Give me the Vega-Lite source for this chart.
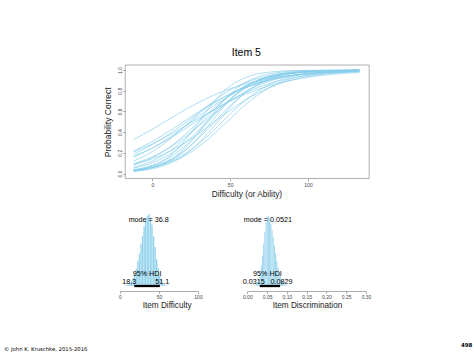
{
  "$schema": "https://vega.github.io/schema/vega-lite/v6.json",
  "width": 474,
  "height": 355,
  "autosize": {"type": "none"},
  "padding": 0,
  "background": "white",
  "title": {"text": "© John K. Kruschke, 2015-2016", "orient": "bottom", "anchor": "start", "frame": "group", "offset": -6.3, "dx": 4, "fontSize": 5.3, "font": "DejaVu Sans", "fontWeight": "normal", "color": "#000000", "baseline": "middle"},
  "config": {
    "view": {"stroke": null},
    "axis": {"grid": false, "labelFlush": false, "labelOverlap": false, "labelFont": "Liberation Sans", "titleFont": "Liberation Sans", "titleFontWeight": "normal", "labelFontSize": 5, "labelColor": "#444444", "titleColor": "#222222", "tickColor": "#777777", "tickWidth": 0.6, "tickSize": 2.5, "domainColor": "#777777", "domainWidth": 0.6}
  },
  "layer": [
    {
      "data": {"values": [{}]},
      "mark": {"type": "rect", "fillOpacity": 0, "stroke": "#8c8c8c", "strokeWidth": 0.7},
      "encoding": {
        "x": {"datum": -17.4, "type": "quantitative", "scale": {"domain": [0, 100], "range": [152.3, 308], "nice": false, "zero": false},
          "axis": {"orient": "bottom", "offset": -176.5, "values": [0, 50, 100], "domain": false, "labelPadding": 1, "title": "Difficulty (or Ability)", "titleFontSize": 8.3, "titleX": 246.4, "titleY": 15.5, "titleBaseline": "middle", "titleAlign": "center"}},
        "x2": {"datum": 139.3},
        "y": {"datum": -0.048, "type": "quantitative", "scale": {"domain": [0, 1], "range": [173.5, 70], "nice": false, "zero": false},
          "axis": {"orient": "left", "offset": -125.3, "values": [0, 0.2, 0.4, 0.6, 0.8, 1], "format": ".1f", "domain": false, "labelAngle": -90, "labelAlign": "center", "labelBaseline": "bottom", "labelPadding": 0.5, "title": "Probability Correct", "titleFontSize": 8.5, "titleX": -18, "titleY": 121.75, "titleAngle": -90, "titleBaseline": "middle", "titleAlign": "center"}},
        "y2": {"datum": 1.048}
      }
    },
    {
      "data": {"values": [
        {"c":1,"x":-12,"p":0.326},{"c":1,"x":0,"p":0.428},{"c":1,"x":12,"p":0.536},{"c":1,"x":24,"p":0.640},{"c":1,"x":36,"p":0.733},{"c":1,"x":48,"p":0.808},{"c":1,"x":60,"p":0.867},{"c":1,"x":75,"p":0.918},{"c":1,"x":95,"p":0.958},{"c":1,"x":133,"p":0.989},
        {"c":2,"x":-12,"p":0.218},{"c":2,"x":0,"p":0.310},{"c":2,"x":12,"p":0.421},{"c":2,"x":24,"p":0.540},{"c":2,"x":36,"p":0.655},{"c":2,"x":48,"p":0.754},{"c":2,"x":60,"p":0.832},{"c":2,"x":75,"p":0.900},{"c":2,"x":95,"p":0.953},{"c":2,"x":133,"p":0.989},
        {"c":3,"x":-12,"p":0.188},{"c":3,"x":0,"p":0.280},{"c":3,"x":12,"p":0.394},{"c":3,"x":24,"p":0.521},{"c":3,"x":36,"p":0.646},{"c":3,"x":48,"p":0.754},{"c":3,"x":60,"p":0.837},{"c":3,"x":75,"p":0.907},{"c":3,"x":95,"p":0.958},{"c":3,"x":133,"p":0.992},
        {"c":4,"x":-12,"p":0.159},{"c":4,"x":0,"p":0.245},{"c":4,"x":12,"p":0.358},{"c":4,"x":24,"p":0.489},{"c":4,"x":36,"p":0.621},{"c":4,"x":48,"p":0.738},{"c":4,"x":60,"p":0.829},{"c":4,"x":75,"p":0.905},{"c":4,"x":95,"p":0.959},{"c":4,"x":133,"p":0.992},
        {"c":5,"x":-12,"p":0.168},{"c":5,"x":0,"p":0.246},{"c":5,"x":12,"p":0.345},{"c":5,"x":24,"p":0.460},{"c":5,"x":36,"p":0.579},{"c":5,"x":48,"p":0.690},{"c":5,"x":60,"p":0.782},{"c":5,"x":75,"p":0.868},{"c":5,"x":95,"p":0.936},{"c":5,"x":133,"p":0.985},
        {"c":6,"x":-12,"p":0.121},{"c":6,"x":0,"p":0.211},{"c":6,"x":12,"p":0.341},{"c":6,"x":24,"p":0.500},{"c":6,"x":36,"p":0.659},{"c":6,"x":48,"p":0.789},{"c":6,"x":60,"p":0.879},{"c":6,"x":75,"p":0.943},{"c":6,"x":95,"p":0.980},{"c":6,"x":133,"p":0.997},
        {"c":7,"x":-12,"p":0.084},{"c":7,"x":0,"p":0.153},{"c":7,"x":12,"p":0.264},{"c":7,"x":24,"p":0.415},{"c":7,"x":36,"p":0.585},{"c":7,"x":48,"p":0.736},{"c":7,"x":60,"p":0.847},{"c":7,"x":75,"p":0.929},{"c":7,"x":95,"p":0.976},{"c":7,"x":133,"p":0.997},
        {"c":8,"x":-12,"p":0.061},{"c":8,"x":0,"p":0.121},{"c":8,"x":12,"p":0.224},{"c":8,"x":24,"p":0.378},{"c":8,"x":36,"p":0.562},{"c":8,"x":48,"p":0.729},{"c":8,"x":60,"p":0.850},{"c":8,"x":75,"p":0.935},{"c":8,"x":95,"p":0.980},{"c":8,"x":133,"p":0.998},
        {"c":9,"x":-12,"p":0.052},{"c":9,"x":0,"p":0.103},{"c":9,"x":12,"p":0.194},{"c":9,"x":24,"p":0.336},{"c":9,"x":36,"p":0.515},{"c":9,"x":48,"p":0.691},{"c":9,"x":60,"p":0.825},{"c":9,"x":75,"p":0.923},{"c":9,"x":95,"p":0.976},{"c":9,"x":133,"p":0.998},
        {"c":10,"x":-12,"p":0.037},{"c":10,"x":0,"p":0.080},{"c":10,"x":12,"p":0.164},{"c":10,"x":24,"p":0.307},{"c":10,"x":36,"p":0.500},{"c":10,"x":48,"p":0.693},{"c":10,"x":60,"p":0.836},{"c":10,"x":75,"p":0.934},{"c":10,"x":95,"p":0.982},{"c":10,"x":133,"p":0.999},
        {"c":11,"x":-12,"p":0.033},{"c":11,"x":0,"p":0.069},{"c":11,"x":12,"p":0.139},{"c":11,"x":24,"p":0.261},{"c":11,"x":36,"p":0.435},{"c":11,"x":48,"p":0.627},{"c":11,"x":60,"p":0.786},{"c":11,"x":75,"p":0.907},{"c":11,"x":95,"p":0.973},{"c":11,"x":133,"p":0.998},
        {"c":12,"x":-12,"p":0.023},{"c":12,"x":0,"p":0.055},{"c":12,"x":12,"p":0.125},{"c":12,"x":24,"p":0.259},{"c":12,"x":36,"p":0.463},{"c":12,"x":48,"p":0.679},{"c":12,"x":60,"p":0.839},{"c":12,"x":75,"p":0.941},{"c":12,"x":95,"p":0.986},{"c":12,"x":133,"p":0.999},
        {"c":13,"x":-12,"p":0.020},{"c":13,"x":0,"p":0.046},{"c":13,"x":12,"p":0.103},{"c":13,"x":24,"p":0.215},{"c":13,"x":36,"p":0.394},{"c":13,"x":48,"p":0.606},{"c":13,"x":60,"p":0.785},{"c":13,"x":75,"p":0.915},{"c":13,"x":95,"p":0.978},{"c":13,"x":133,"p":0.999},
        {"c":14,"x":-12,"p":0.032},{"c":14,"x":0,"p":0.063},{"c":14,"x":12,"p":0.121},{"c":14,"x":24,"p":0.221},{"c":14,"x":36,"p":0.368},{"c":14,"x":48,"p":0.545},{"c":14,"x":60,"p":0.711},{"c":14,"x":75,"p":0.858},{"c":14,"x":95,"p":0.953},{"c":14,"x":133,"p":0.995},
        {"c":15,"x":-12,"p":0.095},{"c":15,"x":0,"p":0.161},{"c":15,"x":12,"p":0.259},{"c":15,"x":24,"p":0.389},{"c":15,"x":36,"p":0.537},{"c":15,"x":48,"p":0.679},{"c":15,"x":60,"p":0.794},{"c":15,"x":75,"p":0.891},{"c":15,"x":95,"p":0.957},{"c":15,"x":133,"p":0.993},
        {"c":16,"x":-12,"p":0.027},{"c":16,"x":0,"p":0.072},{"c":16,"x":12,"p":0.178},{"c":16,"x":24,"p":0.375},{"c":16,"x":36,"p":0.625},{"c":16,"x":48,"p":0.822},{"c":16,"x":60,"p":0.928},{"c":16,"x":75,"p":0.979},{"c":16,"x":95,"p":0.996},{"c":16,"x":133,"p":1.000},
        {"c":17,"x":-12,"p":0.030},{"c":17,"x":0,"p":0.058},{"c":17,"x":12,"p":0.110},{"c":17,"x":24,"p":0.199},{"c":17,"x":36,"p":0.333},{"c":17,"x":48,"p":0.500},{"c":17,"x":60,"p":0.667},{"c":17,"x":75,"p":0.827},{"c":17,"x":95,"p":0.939},{"c":17,"x":133,"p":0.993},
        {"c":18,"x":-12,"p":0.088},{"c":18,"x":0,"p":0.142},{"c":18,"x":12,"p":0.221},{"c":18,"x":24,"p":0.327},{"c":18,"x":36,"p":0.455},{"c":18,"x":48,"p":0.589},{"c":18,"x":60,"p":0.711},{"c":18,"x":75,"p":0.829},{"c":18,"x":95,"p":0.922},{"c":18,"x":133,"p":0.985},
        {"c":19,"x":-12,"p":0.023},{"c":19,"x":0,"p":0.057},{"c":19,"x":12,"p":0.137},{"c":19,"x":24,"p":0.293},{"c":19,"x":36,"p":0.520},{"c":19,"x":48,"p":0.739},{"c":19,"x":60,"p":0.881},{"c":19,"x":75,"p":0.961},{"c":19,"x":95,"p":0.992},{"c":19,"x":133,"p":1.000},
        {"c":20,"x":-12,"p":0.209},{"c":20,"x":0,"p":0.287},{"c":20,"x":12,"p":0.380},{"c":20,"x":24,"p":0.483},{"c":20,"x":36,"p":0.587},{"c":20,"x":48,"p":0.684},{"c":20,"x":60,"p":0.767},{"c":20,"x":75,"p":0.848},{"c":20,"x":95,"p":0.918},{"c":20,"x":133,"p":0.977}
      ]},
      "mark": {"type": "line", "interpolate": "monotone", "stroke": "#87CEEB", "strokeWidth": 0.9, "opacity": 0.75},
      "encoding": {
        "x": {"field": "x", "type": "quantitative", "scale": {"domain": [0, 100], "range": [152.3, 308], "nice": false, "zero": false}, "axis": null},
        "y": {"field": "p", "type": "quantitative", "scale": {"domain": [0, 1], "range": [173.5, 70], "nice": false, "zero": false}, "axis": null},
        "detail": {"field": "c"}
      }
    },
    {
      "data": {"values": [{"t": "Item 5"}]},
      "mark": {"type": "text", "font": "Liberation Sans", "fontSize": 10.5, "align": "center", "baseline": "middle", "color": "#000000"},
      "encoding": {
        "x": {"datum": 60.4, "type": "quantitative", "scale": {"domain": [0, 100], "range": [152.3, 308], "nice": false, "zero": false}, "axis": null},
        "y": {"datum": 1.161, "type": "quantitative", "scale": {"domain": [0, 1], "range": [173.5, 70], "nice": false, "zero": false}, "axis": null},
        "text": {"field": "t"}
      }
    },
    {
      "data": {"values": [{"t": "498"}]},
      "mark": {"type": "text", "font": "DejaVu Sans", "fontSize": 5.5, "fontWeight": "bold", "align": "center", "baseline": "middle", "color": "#000000"},
      "encoding": {
        "x": {"datum": 201.9, "type": "quantitative", "scale": {"domain": [0, 100], "range": [152.3, 308], "nice": false, "zero": false}, "axis": null},
        "y": {"datum": -1.657, "type": "quantitative", "scale": {"domain": [0, 1], "range": [173.5, 70], "nice": false, "zero": false}, "axis": null},
        "text": {"field": "t"}
      }
    },
    {
      "data": {"values": [
        {"a":6,"b":8,"d":0.007},{"a":8,"b":10,"d":0.013},{"a":10,"b":12,"d":0.024},{"a":12,"b":14,"d":0.04},{"a":14,"b":16,"d":0.07},{"a":16,"b":18,"d":0.11},{"a":18,"b":20,"d":0.17},{"a":20,"b":22,"d":0.24},{"a":22,"b":24,"d":0.35},{"a":24,"b":26,"d":0.45},{"a":26,"b":28,"d":0.59},{"a":28,"b":30,"d":0.70},{"a":30,"b":32,"d":0.83},{"a":32,"b":34,"d":0.91},{"a":34,"b":36,"d":0.97},{"a":36,"b":38,"d":1.0},{"a":38,"b":40,"d":0.95},{"a":40,"b":42,"d":0.85},{"a":42,"b":44,"d":0.69},{"a":44,"b":46,"d":0.54},{"a":46,"b":48,"d":0.37},{"a":48,"b":50,"d":0.25},{"a":50,"b":52,"d":0.15},{"a":52,"b":54,"d":0.085},{"a":54,"b":56,"d":0.045},{"a":56,"b":58,"d":0.022},{"a":58,"b":60,"d":0.01},{"a":60,"b":62,"d":0.004},{"a":62,"b":64,"d":0.0015}
      ]},
      "mark": {"type": "rect", "fill": "#87CEEB", "stroke": "#ffffff", "strokeWidth": 0.25},
      "encoding": {
        "x": {"field": "a", "type": "quantitative", "scale": {"domain": [0, 100], "range": [120, 198], "nice": false, "zero": false},
          "axis": {"orient": "bottom", "offset": -64, "values": [0, 50, 100], "domain": true, "labelPadding": 1, "title": "Item Difficulty", "titleFontSize": 8.2, "titleX": 166.7, "titleY": 14, "titleBaseline": "middle", "titleAlign": "center"}},
        "x2": {"field": "b"},
        "y": {"field": "d", "type": "quantitative", "scale": {"domain": [0, 1], "range": [286, 214], "nice": false}, "axis": null},
        "y2": {"datum": 0}
      }
    },
    {
      "data": {"values": [{"lo": 18.3, "hi": 51.1}]},
      "mark": {"type": "rule", "color": "#000000", "strokeWidth": 2.3},
      "encoding": {
        "x": {"field": "lo", "type": "quantitative", "scale": {"domain": [0, 100], "range": [120, 198], "nice": false, "zero": false}, "axis": null},
        "x2": {"field": "hi"},
        "y": {"datum": 0, "type": "quantitative", "scale": {"domain": [0, 1], "range": [286, 214], "nice": false}, "axis": null}
      }
    },
    {
      "data": {"values": [{"v": 36.8, "t": "mode = 36.8", "h": 0.917}, {"v": 34.7, "t": "95% HDI", "h": 0.167}]},
      "mark": {"type": "text", "font": "Liberation Sans", "fontSize": 7.2, "align": "center", "baseline": "middle", "color": "#000000"},
      "encoding": {
        "x": {"field": "v", "type": "quantitative", "scale": {"domain": [0, 100], "range": [120, 198], "nice": false, "zero": false}, "axis": null},
        "y": {"field": "h", "type": "quantitative", "scale": {"domain": [0, 1], "range": [286, 214], "nice": false}, "axis": null},
        "text": {"field": "t"}
      }
    },
    {
      "data": {"values": [{"v": 18.3, "t": "18.3", "h": 0.058}]},
      "mark": {"type": "text", "font": "Liberation Sans", "fontSize": 7.2, "align": "center", "baseline": "middle", "dx": -5, "color": "#000000"},
      "encoding": {
        "x": {"field": "v", "type": "quantitative", "scale": {"domain": [0, 100], "range": [120, 198], "nice": false, "zero": false}, "axis": null},
        "y": {"field": "h", "type": "quantitative", "scale": {"domain": [0, 1], "range": [286, 214], "nice": false}, "axis": null},
        "text": {"field": "t"}
      }
    },
    {
      "data": {"values": [{"v": 51.1, "t": "51.1", "h": 0.058}]},
      "mark": {"type": "text", "font": "Liberation Sans", "fontSize": 7.2, "align": "center", "baseline": "middle", "dx": 2.4, "color": "#000000"},
      "encoding": {
        "x": {"field": "v", "type": "quantitative", "scale": {"domain": [0, 100], "range": [120, 198], "nice": false, "zero": false}, "axis": null},
        "y": {"field": "h", "type": "quantitative", "scale": {"domain": [0, 1], "range": [286, 214], "nice": false}, "axis": null},
        "text": {"field": "t"}
      }
    },
    {
      "data": {"values": [
        {"a":0.016,"b":0.019,"d":0.0045},{"a":0.019,"b":0.022,"d":0.011},{"a":0.022,"b":0.025,"d":0.025},{"a":0.025,"b":0.028,"d":0.052},{"a":0.028,"b":0.031,"d":0.10},{"a":0.031,"b":0.034,"d":0.178},{"a":0.034,"b":0.037,"d":0.29},{"a":0.037,"b":0.040,"d":0.437},{"a":0.040,"b":0.043,"d":0.607},{"a":0.043,"b":0.046,"d":0.775},{"a":0.046,"b":0.049,"d":0.912},{"a":0.049,"b":0.052,"d":0.99},{"a":0.052,"b":0.055,"d":1.0},{"a":0.055,"b":0.058,"d":0.96},{"a":0.058,"b":0.061,"d":0.892},{"a":0.061,"b":0.064,"d":0.80},{"a":0.064,"b":0.067,"d":0.691},{"a":0.067,"b":0.070,"d":0.576},{"a":0.070,"b":0.073,"d":0.462},{"a":0.073,"b":0.076,"d":0.358},{"a":0.076,"b":0.079,"d":0.267},{"a":0.079,"b":0.082,"d":0.193},{"a":0.082,"b":0.085,"d":0.134},{"a":0.085,"b":0.088,"d":0.09},{"a":0.088,"b":0.091,"d":0.058},{"a":0.091,"b":0.094,"d":0.036},{"a":0.094,"b":0.097,"d":0.0215},{"a":0.097,"b":0.100,"d":0.0124},{"a":0.100,"b":0.103,"d":0.007},{"a":0.103,"b":0.106,"d":0.0037}
      ]},
      "mark": {"type": "rect", "fill": "#87CEEB", "stroke": "#ffffff", "strokeWidth": 0.25},
      "encoding": {
        "x": {"field": "a", "type": "quantitative", "scale": {"domain": [0, 0.3], "range": [247.3, 366], "nice": false, "zero": false},
          "axis": {"orient": "bottom", "offset": -64, "values": [0, 0.05, 0.1, 0.15, 0.2, 0.25, 0.3], "format": ".2f", "domain": true, "labelPadding": 1, "title": "Item Discrimination", "titleFontSize": 8.2, "titleX": 307, "titleY": 14, "titleBaseline": "middle", "titleAlign": "center"}},
        "x2": {"field": "b"},
        "y": {"field": "d", "type": "quantitative", "scale": {"domain": [0, 1], "range": [286, 216], "nice": false}, "axis": null},
        "y2": {"datum": 0}
      }
    },
    {
      "data": {"values": [{"lo": 0.0315, "hi": 0.0829}]},
      "mark": {"type": "rule", "color": "#000000", "strokeWidth": 2.3},
      "encoding": {
        "x": {"field": "lo", "type": "quantitative", "scale": {"domain": [0, 0.3], "range": [247.3, 366], "nice": false, "zero": false}, "axis": null},
        "x2": {"field": "hi"},
        "y": {"datum": 0, "type": "quantitative", "scale": {"domain": [0, 1], "range": [286, 216], "nice": false}, "axis": null}
      }
    },
    {
      "data": {"values": [{"v": 0.0521, "t": "mode = 0.0521", "h": 0.943}]},
      "mark": {"type": "text", "font": "Liberation Sans", "fontSize": 7.2, "align": "center", "baseline": "middle", "color": "#000000"},
      "encoding": {
        "x": {"field": "v", "type": "quantitative", "scale": {"domain": [0, 0.3], "range": [247.3, 366], "nice": false, "zero": false}, "axis": null},
        "y": {"field": "h", "type": "quantitative", "scale": {"domain": [0, 1], "range": [286, 216], "nice": false}, "axis": null},
        "text": {"field": "t"}
      }
    },
    {
      "data": {"values": [{"v": 0.0572, "t": "95% HDI", "h": 0.171}]},
      "mark": {"type": "text", "font": "Liberation Sans", "fontSize": 7.2, "align": "center", "baseline": "middle", "dx": -2.5, "color": "#000000"},
      "encoding": {
        "x": {"field": "v", "type": "quantitative", "scale": {"domain": [0, 0.3], "range": [247.3, 366], "nice": false, "zero": false}, "axis": null},
        "y": {"field": "h", "type": "quantitative", "scale": {"domain": [0, 1], "range": [286, 216], "nice": false}, "axis": null},
        "text": {"field": "t"}
      }
    },
    {
      "data": {"values": [{"v": 0.0315, "t": "0.0315", "h": 0.06}]},
      "mark": {"type": "text", "font": "Liberation Sans", "fontSize": 7.2, "align": "center", "baseline": "middle", "dx": -6, "color": "#000000"},
      "encoding": {
        "x": {"field": "v", "type": "quantitative", "scale": {"domain": [0, 0.3], "range": [247.3, 366], "nice": false, "zero": false}, "axis": null},
        "y": {"field": "h", "type": "quantitative", "scale": {"domain": [0, 1], "range": [286, 216], "nice": false}, "axis": null},
        "text": {"field": "t"}
      }
    },
    {
      "data": {"values": [{"v": 0.0829, "t": "0.0829", "h": 0.06}]},
      "mark": {"type": "text", "font": "Liberation Sans", "fontSize": 7.2, "align": "center", "baseline": "middle", "dx": 1.5, "color": "#000000"},
      "encoding": {
        "x": {"field": "v", "type": "quantitative", "scale": {"domain": [0, 0.3], "range": [247.3, 366], "nice": false, "zero": false}, "axis": null},
        "y": {"field": "h", "type": "quantitative", "scale": {"domain": [0, 1], "range": [286, 216], "nice": false}, "axis": null},
        "text": {"field": "t"}
      }
    }
  ],
  "resolve": {"scale": {"x": "independent", "y": "independent"}, "axis": {"x": "independent", "y": "independent"}}
}
